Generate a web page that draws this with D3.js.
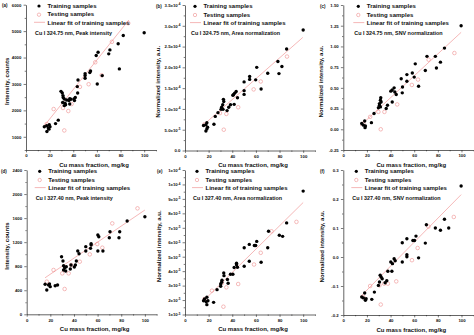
<!DOCTYPE html>
<html><head><meta charset="utf-8">
<script src="https://cdn.jsdelivr.net/npm/d3@7"></script>
<style>
body{margin:0;background:#fff}
svg{display:block}
text{font-family:"Liberation Sans",Arial,sans-serif;font-weight:bold;fill:#111}
</style></head><body>
<svg id="chart" width="474" height="335"></svg>
<script>
// ---------------- data ----------------
const xTicks = [0, 20, 40, 60, 80, 100];
const xMinor = [10, 30, 50, 70, 90, 110];
const xTitle = "Cu mass fraction, mg/kg";
const legendLabels = ["Training samples", "Testing samples", "Linear fit of training samples"];

// (a) Cu I 324.75 nm, Peak intensity
const yTicksA = [1000, 2000, 3000, 4000, 5000, 6000];
const yLabelsA = ["1000", "2000", "3000", "4000", "5000", "6000"];
const trainA = [[100,4940],[82.3,4835],[78,4520],[71,4290],[70,4140],[61,4200],[59.4,4075],[79,3570],[64.5,3316],[60.3,3000],[54.6,3490],[54,3430],[50,3390],[50,3316],[50,3215],[44,3150],[43.4,2900],[43.7,2660],[41.7,2490],[40.6,2430],[41,2370],[37,2440],[38,2420],[36.3,2370],[34.4,2390],[37,2240],[29.6,2720],[30.7,2660],[31.3,2560],[31.5,2490],[32.4,2430],[31,2300],[33,2270],[32.4,2180],[33.5,2215],[27.3,1630],[25,1500],[19.7,1455],[17.5,1420],[15.5,1380],[18.9,1330],[20.3,1380],[17.7,1200],[19.4,1290]];
const testA = [[86.5,5300],[72.7,4595],[58.6,3820],[45.6,2890],[64,3330],[53,2990],[38.6,2240],[31.3,2090],[23.4,2050],[35.8,1975],[32.4,1240],[17.5,1480]];
const fitA = [[15.5,1420],[87,5420]];

// (b) Cu I 324.75 nm, Area normalization  (values in units of 1e-4)
const yTicksB = [0, 0.5, 1.0, 1.5, 2.0, 2.5, 3.0, 3.5];
const yLabelsB = ["0.0", "5.0x10^-5", "1.0x10^-4", "1.5x10^-4", "2.0x10^-4", "2.5x10^-4", "3.0x10^-4", "3.5x10^-4"];
const trainB = [[100,2.90],[86,2.44],[78.6,2.14],[82,2.02],[79.5,1.85],[70,1.86],[60.7,2.00],[59.8,1.70],[54.7,1.78],[54.7,1.71],[50,1.65],[50,1.44],[50,1.35],[64.4,1.48],[43.3,1.42],[42,1.38],[41,1.34],[40.5,1.33],[44.4,1.27],[41.6,1.11],[38.5,1.10],[37,1.04],[35.6,0.96],[32.5,1.23],[32.8,1.18],[31.9,1.10],[31,1.04],[30.5,0.99],[32.2,0.99],[27.9,0.91],[25.6,0.82],[24.5,0.63],[18.5,0.67],[17.7,0.62],[15.7,0.60],[19.1,0.56],[18.5,0.52],[17.7,0.47]];
const testB = [[86.3,2.26],[64.1,1.66],[58.1,1.47],[45,1.04],[35,0.88],[29.6,0.90],[32.8,0.50],[16.5,0.63]];
const fitB = [[14.2,0.58],[99.7,2.72]];

// (c) Cu I 324.75 nm, SNV normalization
const yTicksC = [-0.25, 0, 0.25, 0.5, 0.75, 1.0, 1.25, 1.5];
const yLabelsC = ["-0.25", "0.00", "0.25", "0.50", "0.75", "1.00", "1.25", "1.50"];
const trainC = [[99.7,1.25],[85.6,0.98],[82.2,0.81],[78.8,0.74],[77.9,0.88],[70.8,0.88],[69.4,0.71],[60.9,0.79],[60,0.63],[58.4,0.68],[53.8,0.66],[53.8,0.58],[49,0.61],[50.1,0.51],[49.9,0.44],[63.7,0.52],[43,0.50],[43.6,0.45],[44.8,0.42],[40.2,0.46],[41.4,0.475],[41.4,0.33],[37.4,0.29],[36.3,0.25],[31.7,0.38],[31.4,0.35],[32,0.33],[30.6,0.31],[30.6,0.29],[31.4,0.27],[29.7,0.26],[26,0.19],[23.8,0.08],[18.1,0.10],[17,0.05],[15.6,0.07],[18.7,0.04],[18.4,0.02]];
const testC = [[94,0.92],[72.2,0.84],[63.2,0.60],[58,0.535],[45.6,0.30],[34.8,0.21],[29.7,0.21],[22.7,0.15],[31.7,0.00],[17,0.07]];
const fitC = [[14.2,0.04],[99.7,1.17]];

// (d) Cu I 327.40 nm, Peak intensity
const yTicksD = [0, 400, 800, 1200, 1600, 2000, 2400];
const yLabelsD = ["0", "400", "800", "1200", "1600", "2000", "2400"];
const trainD = [[100,1623],[85,1551],[78.7,1374],[78.1,1274],[70.5,1374],[69.9,1274],[60.2,1319],[61,1291],[60.2,1053],[64.5,1053],[54.5,1175],[54.5,1152],[54,1097],[50,1125],[50,1053],[43.2,1053],[44.3,1008],[42,886],[41.2,820],[40.3,787],[37.5,820],[36.9,753],[33.5,792],[29.5,958],[30.7,886],[31.2,809],[32.1,776],[31.2,737],[33,720],[26.1,488],[24.1,476],[19.3,504],[15.6,499],[18.5,488],[17,404],[19.9,460]];
const testD = [[93.75,1762],[72.4,1512],[59.7,1169],[64,1108],[53.4,997],[44.9,875],[37.5,820],[30.1,681],[35.5,681],[22.7,737],[32.1,421],[17,543]];
const fitD = [[15.5,607],[100,1734]];

// (e) Cu I 327.40 nm, Area normalization  (values in units of 1e-5)
const yTicksE = [1, 2, 3, 4, 5, 6, 7, 8, 9, 10, 11];
const yLabelsE = ["1x10^-5", "2x10^-5", "3x10^-5", "4x10^-5", "5x10^-5", "6x10^-5", "7x10^-5", "8x10^-5", "9x10^-5", "1x10^-4", "1x10^-4"];
const trainE = [[100,9.54],[86,7.34],[79.8,6.48],[82.6,6.41],[70,5.62],[70.7,6.76],[60.7,6.06],[59.8,5.78],[58.7,5.78],[54.4,5.85],[54.4,4.69],[50.1,5.62],[50.1,4.34],[64.4,4.62],[43.6,4.55],[43.6,4.44],[44.4,4.27],[41.6,4.25],[40.5,3.79],[38.5,3.79],[36.5,3.16],[35.9,3.42],[32.8,3.88],[33,3.69],[31.3,3.37],[31,3.23],[30.2,3.11],[30.2,2.95],[27.1,2.72],[24.2,1.84],[18.5,2.19],[16.5,2.07],[17.9,1.88],[19.4,1.95],[18.5,1.68],[15.7,1.95]];
const testE = [[94.3,7.41],[73.2,6.76],[64.1,5.27],[58.4,4.46],[45,3.11],[35,2.88],[31.3,3.18],[22.8,2.65],[32.5,1.54],[16.5,2.07]];
const fitE = [[15.7,1.95],[100,8.75]];

// (f) Cu I 327.40 nm, SNV normalization
const yTicksF = [-0.2, -0.1, 0.0, 0.1, 0.2, 0.3];
const yLabelsF = ["-0.2", "-0.1", "0.0", "0.1", "0.2", "0.3"];
const trainF = [[99.7,0.245],[85.6,0.130],[89.2,0.100],[82.2,0.092],[77.9,0.100],[70.3,0.111],[69.4,0.048],[61.5,0.072],[58.9,0.057],[60.3,0.057],[53.8,0.063],[53.8,0.008],[53.8,0.001],[49.9,0.049],[49.9,-0.017],[63.7,-0.003],[43,-0.006],[43.9,-0.013],[41.6,-0.023],[40.2,-0.017],[41.1,-0.049],[37.7,-0.049],[36.8,-0.082],[32,-0.069],[32.9,-0.075],[31.2,-0.063],[30.6,-0.086],[29.7,-0.098],[35.4,-0.089],[26.3,-0.121],[24.1,-0.146],[18.1,-0.124],[15.6,-0.138],[17,-0.141],[18.7,-0.149],[19.3,-0.144]];
const testF = [[93.5,0.138],[72,0.105],[62.9,0.031],[58.1,-0.011],[44.8,-0.084],[37.7,-0.092],[34.6,-0.092],[30.6,-0.098],[22.7,-0.100],[31.7,-0.164],[17,-0.138]];
const fitF = [[14.2,-0.138],[99.7,0.215]];

// ---------------- layout ----------------
const panels = [
  {tag:"(a)", left:26,    top:4.7, bottom:150,   yDomain:[500,6000],  yTicks:yTicksA, yLabels:yLabelsA, train:trainA, test:testA, fit:fitA, yTitle:"Intensity, counts",           note:"Cu I 324.75 nm, Peak intensity",      tagX:2,   titleX:7,   legX:13},
  {tag:"(b)", left:185,   top:5,   bottom:150.5, yDomain:[0,3.5],     yTicks:yTicksB, yLabels:yLabelsB, train:trainB, test:testB, fit:fitB, yTitle:"Normalized intensity, a.u.", note:"Cu I 324.75 nm, Area normalization",  tagX:156, titleX:158, legX:10},
  {tag:"(c)", left:343.3, top:5,   bottom:150,   yDomain:[-0.25,1.5], yTicks:yTicksC, yLabels:yLabelsC, train:trainC, test:testC, fit:fitC, yTitle:"Normalized intensity, a.u.", note:"Cu I 324.75 nm, SNV normalization",   tagX:320, titleX:320.5, legX:15},
  {tag:"(d)", left:26.7,  top:170, bottom:314.3, yDomain:[0,2400],    yTicks:yTicksD, yLabels:yLabelsD, train:trainD, test:testD, fit:fitD, yTitle:"Intensity, counts",           note:"Cu I 327.40 nm, Peak intensity",      tagX:1,   titleX:7,   legX:13},
  {tag:"(e)", left:185,   top:170, bottom:314.5, yDomain:[1,11],      yTicks:yTicksE, yLabels:yLabelsE, train:trainE, test:testE, fit:fitE, yTitle:"Normalized intensity, a.u.", note:"Cu I 327.40 nm, Area normalization",  tagX:157, titleX:159, legX:12},
  {tag:"(f)", left:343.3, top:170, bottom:315,   yDomain:[-0.2,0.3],  yTicks:yTicksF, yLabels:yLabelsF, train:trainF, test:testF, fit:fitF, yTitle:"Normalized intensity, a.u.", note:"Cu I 327.40 nm, SNV normalization",   tagX:320, titleX:321.5, legX:13}
];

const svg = d3.select("#chart");
const PINK = "#ef8f8f";
const FIT = "#f09a9a";

function superscript(sel, labels){
  sel.each(function(d, i){
    const s = labels[i];
    const t = d3.select(this);
    if (s.includes("^")) {
      const [a, b] = s.split("^");
      t.text(a);
      t.append("tspan").attr("dy", -1.6).attr("font-size", "3px").text(b);
    } else t.text(s);
  });
}

panels.forEach(p => {
  const x = d3.scaleLinear().domain([0,110]).range([p.left, p.left + 130]);
  const y = d3.scaleLinear().domain(p.yDomain).range([p.bottom, p.top]);
  const g = svg.append("g");

  // minor ticks
  const yStep = p.yTicks[1] - p.yTicks[0];
  const yMinor = [];
  p.yTicks.forEach(v => { const m = v - yStep/2; if (m >= p.yDomain[0] - 1e-9) yMinor.push(m); });
  const minorY = g.append("g").attr("transform", `translate(${p.left},0)`)
    .call(d3.axisLeft(y).tickValues(yMinor).tickSize(1.3).tickFormat(""));
  minorY.select(".domain").remove();
  const minorX = g.append("g").attr("transform", `translate(0,${p.bottom})`)
    .call(d3.axisBottom(x).tickValues(xMinor).tickSize(1.3).tickFormat(""));
  minorX.select(".domain").remove();

  const ya = g.append("g").attr("transform", `translate(${p.left},0)`)
    .call(d3.axisLeft(y).tickValues(p.yTicks).tickSize(2.4).tickSizeOuter(0).tickPadding(2.2));
  ya.selectAll("text").attr("font-size", "4.3px").attr("fill", "#111");
  superscript(ya.selectAll(".tick text"), p.yLabels);
  const xa = g.append("g").attr("transform", `translate(0,${p.bottom})`)
    .call(d3.axisBottom(x).tickValues(xTicks).tickSize(2.4).tickSizeOuter(0).tickPadding(2));
  xa.selectAll("text").attr("font-size", "4.3px").attr("fill", "#111");
  [ya, xa, minorX, minorY].forEach(a => {
    a.selectAll("line").attr("stroke", "#222").attr("stroke-width", 0.6);
    a.selectAll(".domain").attr("stroke", "#222").attr("stroke-width", 0.7);
    a.attr("font-family", null);
  });

  // titles
  g.append("text").attr("x", p.left + 68).attr("y", p.bottom + 16.5)
    .attr("text-anchor", "middle").attr("font-size", "6px").text(xTitle);
  g.append("text").attr("transform", `translate(${p.titleX + 2},${(p.top + p.bottom)/2 + 4}) rotate(-90)`)
    .attr("text-anchor", "middle").attr("font-size", "6px").text(p.yTitle);
  g.append("text").attr("x", p.tagX).attr("y", p.top + 2.5).attr("font-size", "4.5px").text(p.tag);

  // fit line
  g.append("line")
    .attr("x1", x(p.fit[0][0])).attr("y1", y(p.fit[0][1]))
    .attr("x2", x(p.fit[1][0])).attr("y2", y(p.fit[1][1]))
    .attr("stroke", FIT).attr("stroke-width", 0.7);

  // testing samples
  g.selectAll("circle.test").data(p.test).join("circle").attr("class", "test")
    .attr("cx", d => x(d[0])).attr("cy", d => y(d[1])).attr("r", 1.8)
    .attr("fill", "none").attr("stroke", PINK).attr("stroke-width", 0.6);
  // training samples
  g.selectAll("circle.train").data(p.train).join("circle").attr("class", "train")
    .attr("cx", d => x(d[0])).attr("cy", d => y(d[1])).attr("r", 1.7).attr("fill", "#000");

  // legend
  const lx = p.left + p.legX, ly = p.top + 1.3;
  g.append("circle").attr("cx", lx).attr("cy", ly).attr("r", 1.6).attr("fill", "#000");
  g.append("circle").attr("cx", lx).attr("cy", ly + 8.7).attr("r", 1.7).attr("fill", "none").attr("stroke", PINK).attr("stroke-width", 0.6);
  g.append("line").attr("x1", lx - 5).attr("x2", lx + 6).attr("y1", ly + 16.3).attr("y2", ly + 16.3).attr("stroke", FIT).attr("stroke-width", 0.7);
  legendLabels.forEach((t, i) => {
    g.append("text").attr("x", lx + 8.5).attr("y", ly + 2.1 + i * 8.2).attr("font-size", "6px").text(t);
  });
  g.append("text").attr("x", lx - 4).attr("y", ly + 29).attr("font-size", "5.4px").text(p.note);
});
</script>
</body></html>
